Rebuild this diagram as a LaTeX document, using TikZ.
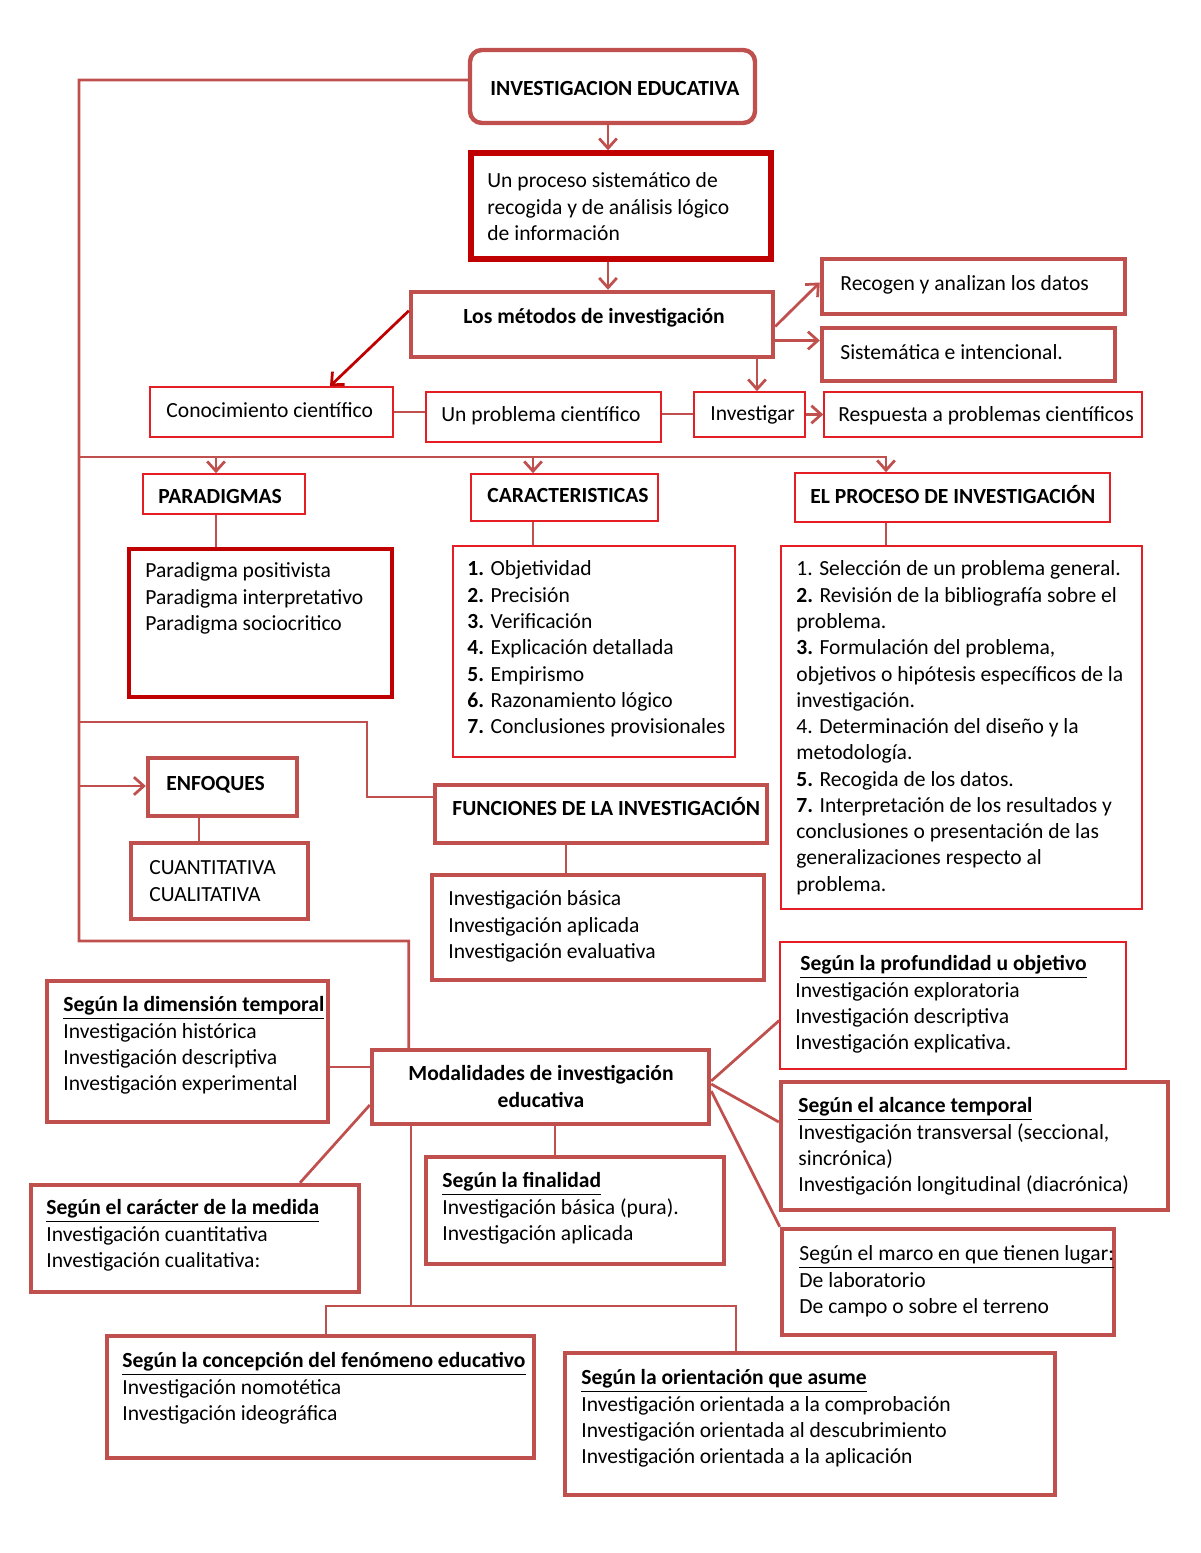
\documentclass[tikz,border=0pt]{standalone}
\usepackage{fontspec}
\setmainfont{Carlito}
\usetikzlibrary{arrows.meta,fit,positioning}
\definecolor{acento}{RGB}{192,80,77}
\definecolor{rojooscuro}{RGB}{192,0,0}
\definecolor{rojo}{RGB}{228,30,36}
\tikzset{
	caja/.style={draw=acento, line width=2.25pt, inner sep=0pt},
	cajafina/.style={draw=rojo, line width=0.8pt, inner sep=0pt},
	cajaosc/.style={draw=rojooscuro, line width=2.75pt, inner sep=0pt},
	texto/.style={anchor=base west, align=left, inner sep=0pt, yshift=-1pt, font=\fontsize{11}{13.4}\selectfont},
	conector/.style={draw=acento, line width=1.4pt},
	flecha/.style={conector, -{Straight Barb[length=5pt,width=9pt]}},
}
\begin{document}
\begin{tikzpicture}[x=0.51pt, y=-0.51pt, line join=miter]
	\useasboundingbox (0,0) rectangle (1200,1553);
	% cajas
	\node[caja, rounded corners=6pt, fit={(470,50) (755,123)}] (inv) {};
	\node[cajaosc, fit={(471,153) (771,259)}] (proc) {};
	\node[caja, fit={(411,292) (773,357)}] (met) {};
	\node[caja, fit={(822,259) (1125,314)}] (rec) {};
	\node[caja, fit={(822,328) (1115,381)}] (sis) {};
	\node[cajafina, fit={(150,387) (393,437)}] (con) {};
	\node[cajafina, fit={(426,392) (661,442)}] (pro) {};
	\node[cajafina, fit={(694,392) (805,437)}] (ivg) {};
	\node[cajafina, fit={(824,392) (1142,437)}] (res) {};
	\node[cajafina, fit={(143,474) (305,514)}] (par) {};
	\node[cajaosc, line width=1.6pt, fit={(129,549) (392,697)}] (pli) {};
	\node[cajafina, fit={(471,474) (658,521)}] (car) {};
	\node[cajafina, fit={(453,546) (735,757)}] (cli) {};
	\node[cajafina, fit={(795,473) (1110,522)}] (epi) {};
	\node[cajafina, fit={(781,546) (1142,909)}] (eli) {};
	\node[caja, fit={(148,758) (297,816)}] (enf) {};
	\node[caja, fit={(131,843) (308,919)}] (cua) {};
	\node[caja, fit={(435,785) (767,843)}] (fun) {};
	\node[caja, fit={(432,875) (764,980)}] (fli) {};
	\node[caja, fit={(47,981) (328,1122)}] (dim) {};
	\node[caja, fit={(372,1050) (709,1124)}] (mod) {};
	\node[caja, fit={(31,1185) (359,1292)}] (med) {};
	\node[caja, fit={(426,1157) (724,1264)}] (fin) {};
	\node[caja, fit={(107,1336) (534,1458)}] (cep) {};
	\node[caja, fit={(565,1353) (1055,1495)}] (ori) {};
	\node[cajafina, fit={(780,942) (1126,1069)}] (prf) {};
	\node[caja, fit={(781,1082) (1168,1210)}] (alc) {};
	\node[caja, fit={(782,1229) (1114,1335)}] (mar) {};
	% textos (anclados en la linea base de la ultima fila)
	\path
	(490,94) node[texto] (invT) {\textbf{INVESTIGACION EDUCATIVA}}
	(487,238.5) node[texto] (procT) {Un proceso sistemático de\\recogida y de análisis lógico\\de información}
	(463,322) node[texto] (metT) {\textbf{Los métodos de investigación}}
	(840,289) node[texto] (recT) {Recogen y analizan los datos}
	(840,358) node[texto] (sisT) {Sistemática e intencional.}
	(166,416) node[texto] (conT) {Conocimiento científico}
	(441,420) node[texto] (proT) {Un problema científico}
	(710,419) node[texto] (ivgT) {Investigar}
	(838,420) node[texto] (resT) {Respuesta a problemas científicos}
	(158,502) node[texto] (parT) {\textbf{PARADIGMAS}}
	(145,628.5) node[texto] (pliT) {Paradigma positivista\\Paradigma interpretativo\\Paradigma sociocritico}
	(487,501) node[texto] (carT) {\textbf{CARACTERISTICAS}}
	(467,731.6) node[texto] (cliT) {\textbf{1.} Objetividad\\\textbf{2.} Precisión\\\textbf{3.} Verificación\\\textbf{4.} Explicación detallada\\\textbf{5.} Empirismo\\\textbf{6.} Razonamiento lógico\\\textbf{7.} Conclusiones provisionales}
	(810,502) node[texto] (epiT) {\textbf{EL PROCESO DE INVESTIGACIÓN}}
	(796,889.3) node[texto] (eliT) {1. Selección de un problema general.\\\textbf{2.} Revisión de la bibliografía sobre el\\problema.\\\textbf{3.} Formulación del problema,\\objetivos o hipótesis específicos de la\\investigación.\\4. Determinación del diseño y la\\metodología.\\\textbf{5.} Recogida de los datos.\\\textbf{7.} Interpretación de los resultados y\\conclusiones o presentación de las\\generalizaciones respecto al\\problema.}
	(166,789) node[texto] (enfT) {\textbf{ENFOQUES}}
	(149,899.3) node[texto] (cuaT) {CUANTITATIVA\\CUALITATIVA}
	(452,814) node[texto] (funT) {\textbf{FUNCIONES DE LA INVESTIGACIÓN}}
	(448,956.5) node[texto] (fliT) {Investigación básica\\Investigación aplicada\\Investigación evaluativa}
	(63,1088.8) node[texto] (dimT) {\underline{\textbf{Según la dimensión temporal}}\\Investigación histórica\\Investigación descriptiva\\Investigación experimental}
	(541,1105.3) node[texto, anchor=base, align=center] (modT) {\textbf{Modalidades de investigación}\\\textbf{educativa}}
	(46,1265.5) node[texto] (medT) {\underline{\textbf{Según el carácter de la medida}}\\Investigación cuantitativa\\Investigación cualitativa:}
	(442,1238.5) node[texto] (finT) {\underline{\textbf{Según la finalidad}}\\Investigación básica (pura).\\Investigación aplicada}
	(122,1418.5) node[texto] (cepT) {\underline{\textbf{Según la concepción del fenómeno educativo}}\\Investigación nomotética\\Investigación ideográfica}
	(581,1461.8) node[texto] (oriT) {\underline{\textbf{Según la orientación que asume}}\\Investigación orientada a la comprobación\\Investigación orientada al descubrimiento\\Investigación orientada a la aplicación}
	(795,1047.8) node[texto] (prfT) {\hspace{2.5pt}\underline{\textbf{Según la profundidad u objetivo}}\\Investigación exploratoria\\Investigación descriptiva\\Investigación explicativa.}
	(798,1189.8) node[texto] (alcT) {\underline{\textbf{Según el alcance temporal}}\\Investigación transversal (seccional,\\sincrónica)\\Investigación longitudinal (diacrónica)}
	(799,1311.5) node[texto] (marT) {\underline{Según el marco en que tienen lugar:}\\De laboratorio\\De campo o sobre el terreno}
	;
	% conectores
	\coordinate (esq) at (79,80);
	\coordinate (rama) at (79,457);
	\coordinate (ramb) at (79,722);
	\coordinate (ramc) at (79,786);
	\coordinate (pie) at (79,941);
	\draw[conector] ([yshift=3.3pt]inv.west) -- (esq) -- (pie) -| ([shift={(39,0)}]mod.north west);
	\draw[flecha] (inv.south -| 608,0) -- (proc.north -| 608,0);
	\draw[flecha] (proc.south -| 608,0) -- (met.north -| 608,0);
	\draw[draw=rojooscuro, line width=1.4pt, -{Straight Barb[length=5pt,width=9pt]}] ([shift={(0,21)}]met.north west) -- (con.north -| 330,0);
	\draw[flecha] ([shift={(0,2)}]met.east) -- ([shift={(0,-4)}]rec.west);
	\draw[flecha] ([shift={(0,16)}]met.east) -- ([shift={(0,16)}]met.east -| sis.west);
	\draw[flecha] (met.south -| 757,0) -- (ivg.north -| 757,0);
	\draw[conector] (con.east) -- (con.east -| pro.west);
	\draw[conector] ([shift={(0,-3)}]pro.east) -- ([shift={(0,-3)}]pro.east -| ivg.west);
	\draw[flecha] (ivg.east) -- (res.west);
	\draw[conector] (rama) -- (216,457);
	\draw[flecha] (rama) -| (epi.north -| 886,0);
	\draw[flecha] (216,457) -- (par.north -| 216,0);
	\draw[flecha] (533,457) -- (car.north -| 533,0);
	\draw[conector] (par.south -| 216,0) -- (pli.north -| 216,0);
	\draw[conector] (car.south -| 533,0) -- (cli.north -| 533,0);
	\draw[conector] (epi.south -| 886,0) -- (eli.north -| 886,0);
	\draw[conector] (ramb) -- (367,722) |- ([shift={(0,-17)}]fun.west);
	\draw[flecha] (ramc) -- (ramc -| enf.west);
	\draw[conector] (enf.south -| 199,0) -- (cua.north -| 199,0);
	\draw[conector] (fun.south -| 566,0) -- (fli.north -| 566,0);
	\draw[conector] (dim.east |- 0,1067) -- (mod.west |- 0,1067);
	\draw[conector] ([shift={(0,18)}]mod.west) -- (med.north -| 300,0);
	\draw[conector] (mod.south -| 555,0) -- (fin.north -| 555,0);
	\draw[conector] (mod.south -| 411,0) -- (411,1306);
	\draw[conector] (cep.north -| 326,0) |- (736,1306) -- (ori.north -| 736,0);
	\draw[conector] ([shift={(0,-6)}]mod.east) -- ([shift={(0,15)}]prf.west);
	\draw[conector] ([shift={(0,-3)}]mod.east) -- ([shift={(0,-24)}]alc.west);
	\draw[conector] ([shift={(0,4)}]mod.east) -- (mar.north west);
\end{tikzpicture}
\end{document}
